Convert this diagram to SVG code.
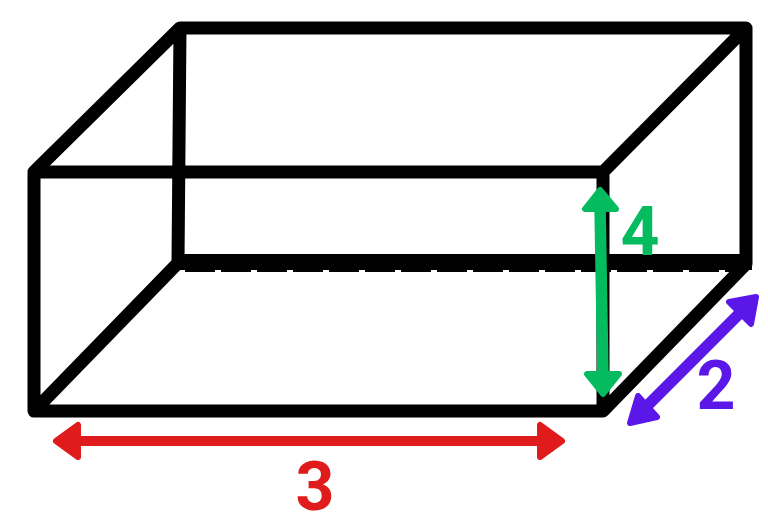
<svg xmlns="http://www.w3.org/2000/svg" width="768" height="515" viewBox="0 0 768 515">
<style>
.e{fill:none;stroke:#000;stroke-width:13;stroke-linecap:round;stroke-linejoin:round}
.h{stroke-linejoin:round;stroke-width:6}
.l{font-family:"Roboto","Liberation Sans",sans-serif;font-weight:700;font-size:68px;text-anchor:middle}
</style>
<rect width="768" height="515" fill="#fff"/>
<g id="box">
<path class="e" d="M34 172H603V411H34ZM34 172L180 28H746V264L603 411M746 28L603 172M180 28L178 262M34 411L178 263"/>
<path d="M172 254H752V270H172Z" fill="#000"/>
<path d="M185 271H735" fill="none" stroke="#000" stroke-width="2" stroke-dasharray="30 6"/>
</g>
<g id="dim-length">
<path d="M75 441H545" fill="none" stroke="#e01b1b" stroke-width="10"/>
<path class="h" d="M56 441L78 425V457Z M562 441L540 425V457Z" fill="#e01b1b" stroke="#e01b1b"/>
<text class="l" x="315" y="510" fill="#e01b1b">3</text>
</g>
<g id="dim-height">
<path d="M600 205L603 380" fill="none" stroke="#04bb5f" stroke-width="11.500"/>
<path class="h" d="M600 190L585 209H616Z M603 394L587 374H619Z" fill="#04bb5f" stroke="#04bb5f"/>
<text class="l" x="640" y="255" fill="#04bb5f">4</text>
</g>
<g id="dim-width">
<path d="M745 308L642 411" fill="none" stroke="#5b17e8" stroke-width="11.500"/>
<path class="h" d="M756 297L729 302L751 324Z M630 423L638 396L657 417Z" fill="#5b17e8" stroke="#5b17e8"/>
<text class="l" x="716" y="409" fill="#5b17e8">2</text>
</g>
</svg>
